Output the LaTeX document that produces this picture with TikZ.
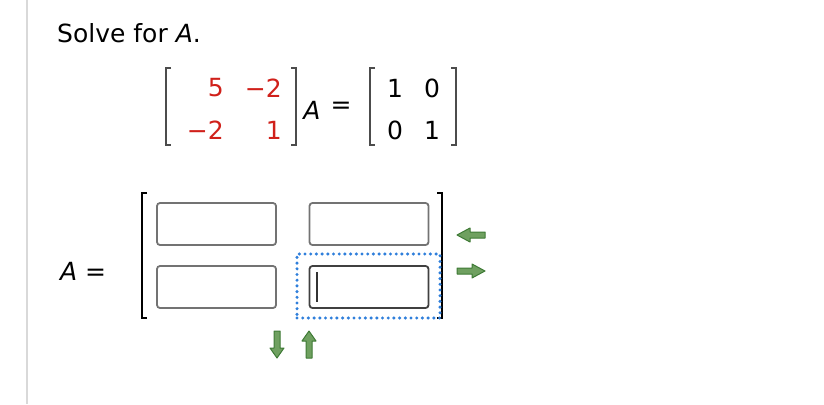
\documentclass[tikz,border=0pt]{standalone}
\usepackage{fontspec}
\setmainfont{DejaVu Sans}
\usetikzlibrary{arrows.meta}
\definecolor{rd}{HTML}{D0201A}
\definecolor{gr}{HTML}{6FA060}
\definecolor{dg}{HTML}{3E7A35}
\definecolor{bl}{HTML}{2F7FDB}
\tikzset{
  txt/.style={font=\fontsize{25}{26}\selectfont, inner sep=0pt},
  num/.style={txt, text=rd},
  ans/.style={draw=black!55, line width=1.8pt, rounded corners=3pt, minimum width=119pt, minimum height=42pt, inner sep=0pt},
  brk/.style={line width=2pt},
  gar/.style={draw=dg, fill=gr, line width=1pt, line join=round}
}
\begin{document}
\begin{tikzpicture}[x=1pt,y=-1pt]
\useasboundingbox (0,0) rectangle (824,404);
\draw[black!15, line width=1.5pt] (27,0) -- (27,404);
\node[txt, anchor=west] (title) at (57,33) {Solve for \textit{A}.};
% first matrix
\draw[brk, black!70] (171,68) -- (166,68) -- (166,145) -- (171,145);
\draw[brk, black!70] (291,68) -- (296,68) -- (296,145) -- (291,145);
\node[num, anchor=east] (a11) at (224,88) {5};
\node[num, anchor=east] (a12) at (282,88) {−2};
\node[num, anchor=east] (a21) at (224,130) {−2};
\node[num, anchor=east] (a22) at (282,130) {1};
\node[txt] (A1) at (312,110) {\textit{A}};
\node[txt] (eq1) at (341,108) {=};
\draw[brk, black!70] (375,68) -- (370,68) -- (370,145) -- (375,145);
\draw[brk, black!70] (451,68) -- (456,68) -- (456,145) -- (451,145);
\node[txt] (b11) at (395,88) {1};
\node[txt] (b12) at (432,88) {0};
\node[txt] (b21) at (395,130) {0};
\node[txt] (b22) at (432,130) {1};
% answer
\node[txt, anchor=west] (A2) at (60,271) {\textit{A} =};
\draw[brk] (147,193) -- (142,193) -- (142,318) -- (147,318);
\draw[brk] (437,193) -- (442,193) -- (442,318) -- (437,318);
\node[ans] (x11) at (216.5,224) {};
\node[ans] (x12) at (369,224) {};
\node[ans] (x21) at (216.5,287) {};
\node[ans, draw=black!75] (x22) at (369,287) {};
\draw[line width=1.8pt, black!80] (317,272) -- (317,302);
\node[draw=bl, line width=3.4pt, dash pattern=on 0pt off 5.7pt, line cap=round, minimum width=143pt, minimum height=64pt, inner sep=0pt] (focus) at (368.5,286) {};
% arrows
\draw[gar] (485,232) -- (470,232) -- (470,228) -- (457,235) -- (470,242) -- (470,238) -- (485,238) -- cycle;
\draw[gar] (457,268) -- (472,268) -- (472,264) -- (485,271) -- (472,278) -- (472,274) -- (457,274) -- cycle;
\draw[gar] (274,331) -- (280,331) -- (280,348) -- (284,348) -- (277,358) -- (270,348) -- (274,348) -- cycle;
\draw[gar] (306,358) -- (312,358) -- (312,341) -- (316,341) -- (309,331) -- (302,341) -- (306,341) -- cycle;
\end{tikzpicture}
\end{document}
